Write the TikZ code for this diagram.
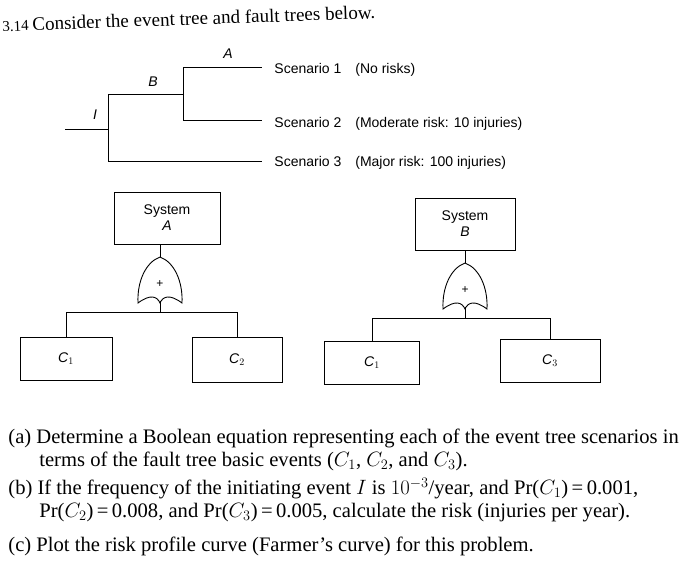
\documentclass[tikz,border=0pt]{standalone}
\usepackage{fontspec}
\setmainfont{Liberation Serif}
\newfontfamily\hv{Liberation Sans}
\begin{document}
\begin{tikzpicture}[x=1pt,y=-1pt,line width=0.9pt,
  lbl/.style={font=\hv\fontsize{14}{16}\selectfont,inner sep=1pt},
  body/.style={font=\fontsize{20.6}{23}\selectfont,anchor=west,align=left,inner sep=0}]
\useasboundingbox[fill=white] (0,0) rectangle (700,571);
\node[body,rotate=2,anchor=west] (title) at (2,25) {\fontsize{15}{17}\selectfont 3.14 \fontsize{19}{21}\selectfont Consider the event tree and fault trees below.};
% event tree
\coordinate (i0) at (65,129);
\coordinate (i1) at (108,129);
\coordinate (b0) at (108,94);
\coordinate (b1) at (183,94);
\coordinate (a0) at (183,67);
\coordinate (a1) at (262,67);
\coordinate (c0) at (183,120);
\coordinate (c1) at (262,120);
\coordinate (d0) at (108,161);
\coordinate (d1) at (262,161);
\draw (i0)--(i1) (b0)--(d0) (b0)--(b1) (a0)--(c0) (a0)--(a1) (c0)--(c1) (d0)--(d1);
\node[lbl,font=\hv\itshape\fontsize{14}{16}\selectfont] (li) at (95,115) {I};
\node[lbl,font=\hv\itshape\fontsize{14}{16}\selectfont] (lb) at (153,82) {B};
\node[lbl,font=\hv\itshape\fontsize{14}{16}\selectfont] (la) at (228,54) {A};
\node[lbl,anchor=west] (s1) at (273,70) {Scenario 1\quad (No risks)};
\node[lbl,anchor=west] (s2) at (273,124) {Scenario 2\quad (Moderate risk: 10 injuries)};
\node[lbl,anchor=west] (s3) at (273,163) {Scenario 3\quad (Major risk: 100 injuries)};
\tikzset{orgate/.pic={
  \draw[line width=0.9pt] (-22,46) .. controls (-10,37) and (-3,39) .. (0,46) .. controls (3,39) and (10,37) .. (22,46)
     .. controls (23,24) and (14,5) .. (0,0) .. controls (-14,5) and (-23,24) .. (-22,46) -- cycle;
  \node[font=\hv\fontsize{12}{12}\selectfont] at (0,27) {+};}}
% fault tree A
\node[lbl,draw,line width=0.9pt,minimum width=106pt,minimum height=52pt,align=center,inner sep=2pt] (sa) at (167,218) {System\\ \textit{A}};
\pic at (160,257) {orgate};
\draw (sa.south) ++(-7,0) -- (160,257);
\draw (160,301) -- (160,312);
\node[lbl,draw,line width=0.9pt,minimum width=92pt,minimum height=43pt] (c1a) at (66,359) {\textit{C}$_1$};
\node[lbl,draw,line width=0.9pt,minimum width=90pt,minimum height=45pt] (c2a) at (237,360) {\textit{C}$_2$};
\draw (c1a.north) -- (c1a.north|-0,312) -- (c2a.north|-0,312) -- (c2a.north);
% fault tree B
\node[lbl,draw,line width=0.9pt,minimum width=100pt,minimum height=52pt,align=center,inner sep=2pt] (sb) at (465,224) {System\\ \textit{B}};
\pic at (465,263) {orgate};
\draw (sb.south) -- (465,263);
\draw (465,307) -- (465,318);
\node[lbl,draw,line width=0.9pt,minimum width=95pt,minimum height=43pt] (c1b) at (372,363) {\textit{C}$_1$};
\node[lbl,draw,line width=0.9pt,minimum width=100pt,minimum height=43pt] (c3b) at (550,361) {\textit{C}$_3$};
\draw (c1b.north) -- (c1b.north|-0,318) -- (c3b.north|-0,318) -- (c3b.north);
% text
\node[body] (qa) at (8,450) {(a) Determine a Boolean equation representing each of the event tree scenarios in\\
\hspace*{1.5em}terms of the fault tree basic events ($C_1$, $C_2$, and $C_3$).};
\node[body] (qb) at (8,500) {(b) If the frequency of the initiating event $I$ is $10^{-3}$/year, and Pr($C_1$)\,=\,0.001,\\
\hspace*{1.5em}Pr($C_2$)\,=\,0.008, and Pr($C_3$)\,=\,0.005, calculate the risk (injuries per year).};
\node[body] (qc) at (8,546) {(c) Plot the risk profile curve (Farmer's curve) for this problem.};
\end{tikzpicture}
\end{document}
